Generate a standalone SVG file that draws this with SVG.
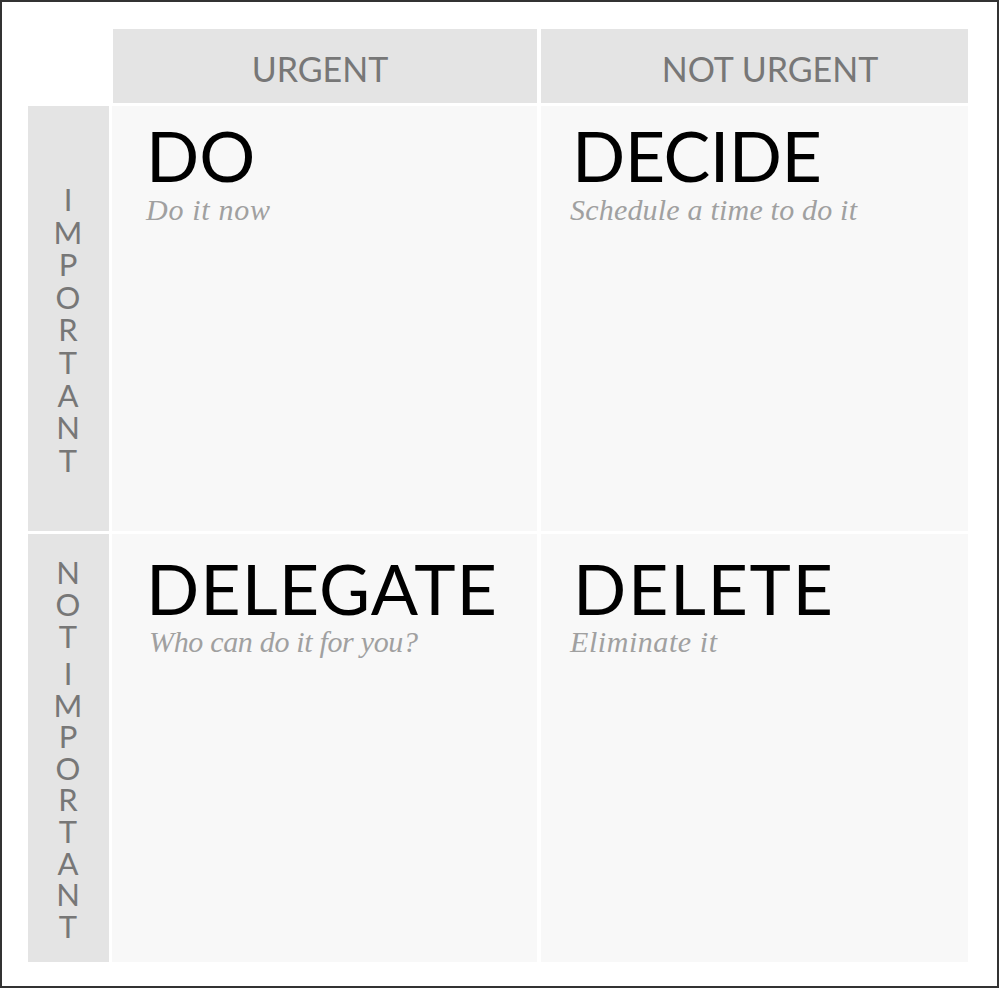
<svg xmlns="http://www.w3.org/2000/svg" width="1000" height="989" viewBox="0 0 1000 989">
<style>
.hdr{fill:#e4e4e4}
.q{fill:#f8f8f8}
.ht{font-family:Lato,"Liberation Sans",sans-serif;font-size:34px;fill:#777;text-anchor:middle}
.vt{font-family:Lato,"Liberation Sans",sans-serif;font-size:31px;fill:#777;text-anchor:middle}
.title{font-family:Lato,"Liberation Sans",sans-serif;font-size:70px;fill:#000}
.sub{font-family:"Liberation Serif",serif;font-style:italic;font-size:30px;fill:#a0a0a0}
</style>
<rect x="0" y="0" width="1000" height="989" fill="#fff"/>
<rect x="1" y="1" width="997" height="986" fill="none" stroke="#333" stroke-width="2"/>
<g id="hdr-urgent">
<rect class="hdr" x="113" y="29" width="424" height="74"/>
<text class="ht" x="320" y="82">URGENT</text>
</g>
<g id="hdr-noturgent">
<rect class="hdr" x="541" y="29" width="427" height="74"/>
<text class="ht" x="770" y="82">NOT URGENT</text>
</g>
<g id="side-important">
<rect class="hdr" x="28" y="106" width="81" height="425"/>
<text class="vt"><tspan x="68" y="211">I</tspan><tspan x="68" y="243.6">M</tspan><tspan x="68" y="276.2">P</tspan><tspan x="68" y="308.8">O</tspan><tspan x="68" y="341.4">R</tspan><tspan x="68" y="374">T</tspan><tspan x="68" y="406.6">A</tspan><tspan x="68" y="439.2">N</tspan><tspan x="68" y="472">T</tspan></text>
</g>
<g id="side-notimportant">
<rect class="hdr" x="28" y="534" width="81" height="428"/>
<text class="vt"><tspan x="68" y="584">N</tspan><tspan x="68" y="616">O</tspan><tspan x="68" y="648">T</tspan><tspan x="68" y="685">I</tspan><tspan x="68" y="716.6">M</tspan><tspan x="68" y="748.2">P</tspan><tspan x="68" y="779.8">O</tspan><tspan x="68" y="811.4">R</tspan><tspan x="68" y="843">T</tspan><tspan x="68" y="874.6">A</tspan><tspan x="68" y="906.2">N</tspan><tspan x="68" y="938">T</tspan></text>
</g>
<g id="q-do">
<rect class="q" x="112" y="106" width="425" height="425"/>
<text class="title" x="146" y="182">DO</text>
<text class="sub" x="146" y="220" textLength="124" lengthAdjust="spacing">Do it now</text>
</g>
<g id="q-decide">
<rect class="q" x="541" y="106" width="427" height="425"/>
<text class="title" x="572" y="182" textLength="250" lengthAdjust="spacing">DECIDE</text>
<text class="sub" x="570" y="220" textLength="287" lengthAdjust="spacing">Schedule a time to do it</text>
</g>
<g id="q-delegate">
<rect class="q" x="112" y="534" width="425" height="428"/>
<text class="title" x="146" y="615" textLength="351" lengthAdjust="spacing">DELEGATE</text>
<text class="sub" x="149" y="652" textLength="269" lengthAdjust="spacing">Who can do it for you?</text>
</g>
<g id="q-delete">
<rect class="q" x="541" y="534" width="427" height="428"/>
<text class="title" x="573" y="615" textLength="260" lengthAdjust="spacing">DELETE</text>
<text class="sub" x="570" y="652" textLength="147" lengthAdjust="spacing">Eliminate it</text>
</g>
<g id="connectors"></g>
</svg>
